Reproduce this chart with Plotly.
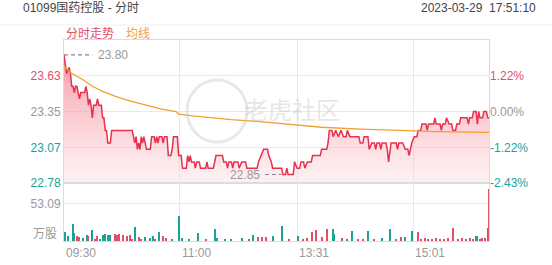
import plotly.graph_objects as go

# ---------------- data ----------------
prev_close = 23.35
pct_ticks = [1.22, 0.00, -1.22, -2.43]
time_ticks = [0, 90, 181, 271]
time_labels = ["09:30", "11:00", "13:31", "15:01"]
n_minutes = 330

price_idx = [0, 1, 2, 4, 5, 6, 7, 8, 9, 10, 11, 12, 13, 16, 17, 18, 19, 20, 21, 22,
             23, 25, 26, 27, 29, 30, 31, 32, 33, 34, 36, 37, 53, 54, 55, 56, 57, 58, 59, 60,
             61, 62, 63, 64, 67, 68, 70, 71, 72, 73, 74, 76, 77, 78, 80, 81, 83, 84, 85, 88,
             89, 91, 92, 95, 96, 97, 98, 99, 101, 102, 103, 105, 106, 110, 111, 112, 116, 117, 118, 123,
             124, 126, 127, 128, 130, 131, 132, 135, 136, 138, 141, 142, 150, 151, 153, 155, 158, 159, 161, 162,
             169, 170, 172, 173, 174, 178, 179, 181, 183, 184, 186, 187, 189, 192, 193, 199, 200, 204, 205, 206,
             208, 209, 211, 213, 215, 217, 219, 220, 222, 229, 230, 232, 233, 236, 237, 239, 241, 242, 243, 245,
             246, 247, 250, 251, 252, 253, 254, 258, 259, 260, 263, 265, 267, 268, 269, 270, 272, 274, 275, 277,
             278, 281, 282, 283, 287, 288, 289, 292, 293, 294, 296, 297, 299, 301, 302, 304, 305, 307, 308, 313,
             314, 315, 317, 318, 320, 321, 322, 323, 325, 326, 328, 329, 330]
price_val = [23.80, 23.70, 23.65, 23.70, 23.65, 23.55, 23.55, 23.50, 23.55, 23.55, 23.50, 23.45, 23.50, 23.50, 23.55, 23.50, 23.40, 23.45, 23.40, 23.30,
             23.40, 23.40, 23.45, 23.40, 23.40, 23.30, 23.30, 23.20, 23.20, 23.10, 23.10, 23.20, 23.20, 23.15, 23.10, 23.15, 23.05, 23.10, 23.05, 23.15,
             23.10, 23.15, 23.10, 23.05, 23.05, 23.15, 23.15, 23.10, 23.15, 23.10, 23.15, 23.15, 23.10, 23.15, 23.15, 23.00, 23.00, 23.05, 23.15, 23.15,
             23.00, 23.00, 22.90, 22.90, 23.00, 22.95, 23.00, 22.95, 22.95, 22.90, 22.95, 22.95, 22.90, 22.90, 22.95, 22.90, 22.90, 22.95, 23.00, 23.00,
             22.95, 22.95, 22.90, 22.95, 22.95, 22.90, 22.95, 22.95, 22.90, 22.95, 22.95, 22.90, 22.90, 22.95, 23.00, 23.05, 23.05, 23.00, 22.95, 22.90,
             22.90, 22.85, 22.85, 22.90, 22.85, 22.85, 22.95, 22.90, 22.90, 22.95, 22.95, 22.90, 22.95, 22.95, 23.00, 23.00, 23.05, 23.05, 23.10, 23.20,
             23.20, 23.15, 23.20, 23.15, 23.20, 23.15, 23.15, 23.20, 23.15, 23.15, 23.10, 23.10, 23.15, 23.15, 23.05, 23.10, 23.10, 23.05, 23.10, 23.10,
             23.05, 23.10, 23.10, 23.05, 22.95, 23.05, 23.10, 23.10, 23.05, 23.10, 23.10, 23.05, 23.05, 23.00, 23.05, 23.10, 23.15, 23.15, 23.20, 23.20,
             23.25, 23.25, 23.20, 23.25, 23.25, 23.30, 23.25, 23.25, 23.20, 23.25, 23.25, 23.30, 23.25, 23.25, 23.20, 23.20, 23.25, 23.25, 23.30, 23.30,
             23.25, 23.30, 23.30, 23.35, 23.35, 23.25, 23.35, 23.30, 23.30, 23.35, 23.35, 23.30, 23.30]

avg_idx = [0, 3, 5, 10, 15, 22, 30, 40, 49, 60, 75, 87, 89, 100, 113, 130, 152, 183, 200, 230, 261, 290, 330]
avg_val = [23.71, 23.68, 23.66, 23.63, 23.60, 23.55, 23.51, 23.47, 23.44, 23.41, 23.37, 23.35, 23.33, 23.315, 23.30, 23.285, 23.27, 23.24, 23.225, 23.21, 23.20, 23.19, 23.185]

vol_idx = [1, 3, 7, 8, 10, 12, 15, 18, 19, 22, 24, 26, 28, 30, 32, 34, 36, 40, 41, 43,
           46, 49, 51, 53, 55, 58, 60, 63, 67, 69, 71, 74, 77, 79, 84, 89, 92, 97, 104, 110,
           117, 119, 125, 130, 138, 144, 147, 151, 154, 157, 162, 169, 175, 182, 186, 189, 193, 196, 200, 204,
           209, 210, 216, 220, 224, 228, 232, 236, 241, 247, 253, 258, 262, 265, 270, 275, 277, 280, 283, 286,
           289, 292, 295, 298, 302, 306, 309, 312, 315, 318, 320, 321, 323, 325, 327, 329, 330]
vol_val = [13, 7, 24, 11, 7, 6, 4, 9, 7, 16, 3, 7, 3, 8, 10, 8, 9, 10, 8, 10,
           8, 7, 9, 3, 20, 6, 3, 6, 5, 7, 3, 13, 7, 4, 2, 36, 4, 2, 11, 2,
           17, 4, 2, 3, 4, 2, 9, 6, 6, 6, 7, 22, 2, 7, 2, 4, 13, 16, 6, 17,
           17, 10, 4, 2, 14, 3, 2, 14, 3, 4, 17, 3, 6, 6, 14, 13, 3, 4, 3, 3,
           4, 3, 3, 4, 19, 3, 4, 3, 4, 3, 7, 7, 3, 4, 4, 19, 75]
vol_dir = [-1, -1, -1, -1, 1, 1, -1, -1, 1, -1, 1, 1, -1, -1, -1, -1, -1, 1, 1, 1,
           1, 1, 1, 1, -1, 1, 1, -1, -1, -1, 1, -1, 1, 1, -1, -1, -1, -1, -1, 1,
           -1, -1, -1, -1, -1, 1, -1, 1, 1, 1, -1, -1, 1, -1, 1, 1, 1, 1, 1, 1,
           -1, -1, 1, -1, -1, 1, 1, -1, 1, -1, -1, 1, 1, -1, -1, 1, 1, 1, 1, 1,
           1, 1, 1, 1, 1, 1, 1, 1, 1, 1, -1, -1, 1, 1, 1, -1, 1]
vol_tick = 53.09
vol_top = 83.2

# ---------------- styles ----------------
RED = "#e8304f"
RED_TXT = "#e0506a"
TEAL = "#1aa394"
GRAY_TXT = "#999999"
ORANGE = "#f0a030"
GRID = "#e9e9e9"
BORDER = "#dcdcdc"
FONT = "Liberation Sans, Arial, Noto Sans CJK SC, sans-serif"

lo = prev_close * (1 - 0.0243)
hi = prev_close * (1 + 0.0243)
tick_prices = [prev_close * (1 + p / 100) for p in pct_ticks]

def tick_color(p):
    if p > 0:
        return RED_TXT
    if p < 0:
        return TEAL
    return GRAY_TXT

left_text = [f'<span style="color:{tick_color(p)}">{v:.2f}</span>' for p, v in zip(pct_ticks, tick_prices)]
right_text = [f'<span style="color:{tick_color(p)}">{p:.2f}%</span>' for p in pct_ticks]

fig = go.Figure()

fig.add_trace(go.Scatter(
    x=price_idx, y=price_val, mode="lines", xaxis="x", yaxis="y",
    line=dict(color=RED, width=1.5, shape="linear"),
    fill="tozeroy",
    fillgradient=dict(type="vertical", start=lo, stop=max(price_val),
                      colorscale=[[0, "rgba(250,215,220,0.35)"], [1, "rgba(242,90,110,0.62)"]]),
    hoverinfo="skip", showlegend=False))

fig.add_trace(go.Scatter(
    x=avg_idx, y=avg_val, mode="lines", xaxis="x", yaxis="y",
    line=dict(color=ORANGE, width=1.3), hoverinfo="skip", showlegend=False))

fig.add_trace(go.Scatter(
    x=[0], y=[prev_close], mode="markers", marker=dict(opacity=0), xaxis="x", yaxis="y2",
    hoverinfo="skip", showlegend=False))

fig.add_trace(go.Bar(
    x=vol_idx, y=vol_val, xaxis="x2", yaxis="y3", width=0.9,
    marker=dict(color=[RED_TXT if d > 0 else TEAL for d in vol_dir], line=dict(width=0)),
    hoverinfo="skip", showlegend=False))

price_dom = [(241 - 183) / 201, 1]
vol_dom = [0, (241 - 183) / 201]
xcommon = dict(range=[0, n_minutes], tickvals=time_ticks + [n_minutes], showticklabels=False,
               showgrid=True, gridcolor=GRID, gridwidth=1, zeroline=False, ticks="",
               showline=True, mirror=True, linecolor=BORDER, linewidth=1, fixedrange=True)

fig.update_layout(
    width=552, height=265,
    margin=dict(l=64, r=63, t=40, b=24),
    paper_bgcolor="white", plot_bgcolor="white",
    font=dict(family=FONT, size=12, color=GRAY_TXT),
    bargap=0,
    xaxis=dict(anchor="y", domain=[0, 1], **xcommon),
    xaxis2=dict(anchor="y3", domain=[0, 1], **xcommon),
    yaxis=dict(domain=price_dom, range=[lo, hi], tickvals=tick_prices, ticktext=left_text,
               showgrid=True, gridcolor=GRID, zeroline=False, ticks="", showline=True,
               mirror=True, linecolor=BORDER, tickfont=dict(size=12), fixedrange=True),
    yaxis2=dict(overlaying="y", side="right", range=[lo, hi], tickvals=tick_prices,
                ticktext=right_text, showgrid=False, zeroline=False, ticks="",
                tickfont=dict(size=12), fixedrange=True),
    yaxis3=dict(domain=vol_dom, range=[0, vol_top], tickvals=[vol_tick], ticktext=[f"{vol_tick:.2f}"],
                showgrid=True, gridcolor=GRID, zeroline=False, ticks="", showline=True,
                mirror=True, linecolor=BORDER, tickfont=dict(size=12, color=GRAY_TXT), fixedrange=True),
)

def px_x(X):
    return (X - 64) / 425

def px_y(Y):
    return (241 - Y) / 201

ann = []
# header
ann.append(dict(x=px_x(21), y=px_y(8), xref="paper", yref="paper", xanchor="left", yanchor="middle",
                text="01099国药控股 - 分时", showarrow=False, font=dict(size=12, color="#444444")))
ann.append(dict(x=px_x(538), y=px_y(8), xref="paper", yref="paper", xanchor="right", yanchor="middle",
                text="2023-03-29  17:51:10", showarrow=False, font=dict(size=12, color="#444444")))
ann.append(dict(x=px_x(64), y=px_y(34), xref="paper", yref="paper", xanchor="left", yanchor="middle",
                text="分时走势", showarrow=False, font=dict(size=12, color=RED_TXT)))
ann.append(dict(x=px_x(124), y=px_y(34), xref="paper", yref="paper", xanchor="left", yanchor="middle",
                text="均线", showarrow=False, font=dict(size=12, color=ORANGE)))
# time labels, left-aligned on gridlines
for t, lab in zip(time_ticks, time_labels):
    ann.append(dict(x=t, y=px_y(253), xref="x2", yref="paper", xanchor="left", yanchor="middle",
                    text=lab, showarrow=False, font=dict(size=12, color=GRAY_TXT)))
ann.append(dict(x=px_x(59), y=px_y(234), xref="paper", yref="paper", xanchor="right", yanchor="middle",
                text="万股", showarrow=False, font=dict(size=12, color=GRAY_TXT)))

# max / min markers
pmax = max(price_val)
imax = price_idx[price_val.index(pmax)]
pmin = min(price_val)
imin = price_idx[price_val.index(pmin)]
ann.append(dict(x=imax + 25, y=pmax, xref="x", yref="y", xanchor="left", yanchor="middle",
                text=f"{pmax:.2f}", showarrow=False, font=dict(size=12, color=GRAY_TXT)))
ann.append(dict(x=imin - 16, y=pmin, xref="x", yref="y", xanchor="right", yanchor="middle",
                text=f"{pmin:.2f}", showarrow=False, font=dict(size=12, color=GRAY_TXT)))

# watermark
ann.append(dict(x=px_x(292), y=px_y(111), xref="paper", yref="paper", xanchor="center", yanchor="middle",
                text="老虎社区", showarrow=False, font=dict(size=24, color="rgba(185,185,185,0.35)")))

shapes = [
    dict(type="line", xref="paper", yref="paper", x0=px_x(0), x1=px_x(552), y0=px_y(25), y1=px_y(25),
         line=dict(color="#eeeeee", width=1)),
    dict(type="line", xref="x", yref="y", x0=imax, x1=imax + 22, y0=pmax, y1=pmax,
         line=dict(color="#888888", width=1.2, dash="4px,3px")),
    dict(type="line", xref="x", yref="y", x0=imin - 14, x1=imin - 1, y0=pmin, y1=pmin,
         line=dict(color="#888888", width=1.2, dash="4px,3px")),
    dict(type="circle", xref="paper", yref="paper", x0=px_x(187), x1=px_x(247), y0=px_y(142), y1=px_y(80),
         line=dict(color="rgba(190,190,190,0.35)", width=3)),
]

fig.update_layout(annotations=ann, shapes=shapes)
fig.write_html("out.html")
